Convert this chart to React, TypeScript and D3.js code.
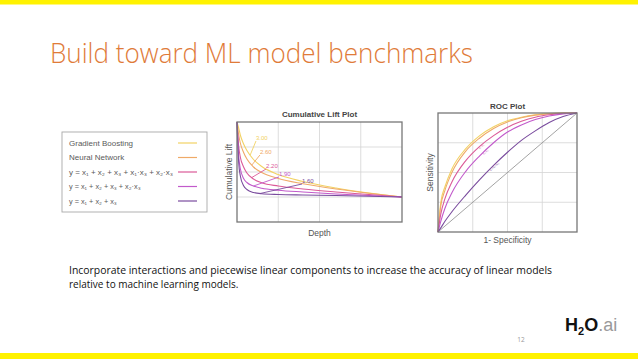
import React from "react";
import * as d3 from "d3";

const seriesNames = [
  "Gradient Boosting",
  "Neural Network",
  "y = x₁ + x₂ + x₃ + x₁·x₃ + x₂·x₃",
  "y = x₁ + x₂ + x₃ + x₂·x₃",
  "y = x₁ + x₂ + x₃",
];
const seriesColors = ["#F2D264", "#EFAA68", "#DB5A98", "#C25ACB", "#7A4C9E"];

// Cumulative lift
const liftDepth = [0, 0.01, 0.02, 0.04, 0.06, 0.1, 0.15, 0.25, 0.4, 0.6, 0.8, 1.0];
const liftGB = [4.0, 3.76, 3.48, 3.12, 2.86, 2.5, 2.22, 1.9, 1.62, 1.36, 1.16, 1.0];
const liftNN = [4.0, 3.5, 3.16, 2.78, 2.52, 2.2, 1.98, 1.74, 1.53, 1.32, 1.15, 1.0];
const liftX13X23 = [4.0, 3.05, 2.6, 2.2, 1.96, 1.72, 1.57, 1.44, 1.32, 1.2, 1.1, 1.0];
const liftX23 = [4.0, 2.65, 2.14, 1.74, 1.58, 1.44, 1.35, 1.27, 1.2, 1.12, 1.06, 1.0];
const liftBase = [4.0, 2.4, 1.85, 1.45, 1.3, 1.18, 1.13, 1.1, 1.08, 1.06, 1.03, 1.0];
const liftSeries = [liftGB, liftNN, liftX13X23, liftX23, liftBase];
const liftLabels = ["3.00", "2.60", "2.20", "1.90", "1.60"];
const liftLabelDepth = [0.109, 0.133, 0.17, 0.248, 0.388];
const liftLabelLift = [3.28, 2.72, 2.16, 1.84, 1.56];
const liftAnchorDepth = [0.08, 0.09, 0.09, 0.1, 0.14];

// ROC
const rocFpr = [0, 0.02, 0.05, 0.1, 0.2, 0.3, 0.4, 0.5, 0.6, 0.7, 0.8, 0.9, 1.0];
const rocGB = [0, 0.25, 0.38, 0.53, 0.7, 0.81, 0.885, 0.935, 0.965, 0.985, 0.995, 1.0, 1.0];
const rocNN = [0, 0.22, 0.35, 0.5, 0.68, 0.79, 0.87, 0.925, 0.96, 0.982, 0.994, 0.999, 1.0];
const rocX13X23 = [0, 0.15, 0.28, 0.42, 0.6, 0.72, 0.81, 0.88, 0.93, 0.965, 0.985, 0.997, 1.0];
const rocX23 = [0, 0.09, 0.2, 0.33, 0.51, 0.64, 0.75, 0.84, 0.9, 0.945, 0.975, 0.993, 1.0];
const rocBase = [0, 0.035, 0.09, 0.17, 0.31, 0.44, 0.56, 0.67, 0.77, 0.85, 0.92, 0.97, 1.0];
const rocSeries = [rocGB, rocNN, rocX13X23, rocX23, rocBase];

const titleText = "Build toward ML model benchmarks";
const bodyLines = [
  "Incorporate interactions and piecewise linear components to increase the accuracy of linear models",
  "relative to machine learning models.",
];
const pageNumber = "12";

const W = 638;
const H = 359;
const SANS = "'Liberation Sans', Arial, sans-serif";
const BODY = "'Open Sans', 'Noto Sans', sans-serif";

function interp(xs: number[], ys: number[], x: number) {
  for (let i = 1; i < xs.length; i++) {
    if (x <= xs[i]) {
      const t = (x - xs[i - 1]) / (xs[i] - xs[i - 1]);
      return ys[i - 1] + t * (ys[i] - ys[i - 1]);
    }
  }
  return ys[ys.length - 1];
}

function LiftPlot() {
  const x = d3.scaleLinear().domain([0, 1]).range([237, 402]);
  const y = d3.scaleLinear().domain([0, 4]).range([222, 122]);
  const line = d3
    .line<number>()
    .x((_, i) => x(liftDepth[i]))
    .y((d) => y(d))
    .curve(d3.curveMonotoneX);
  const gx = [0.25, 0.5, 0.75];
  const gy = [1, 2, 3];
  return (
    <g>
      <text x={(x(0) + x(1)) / 2} y={117} textAnchor="middle" fontFamily={SANS} fontSize={8} fontWeight="bold" fill="#444">
        Cumulative Lift Plot
      </text>
      {gx.map((g) => (
        <line key={"vx" + g} x1={x(g)} x2={x(g)} y1={y(4)} y2={y(0)} stroke="#d4d4d4" strokeWidth={0.8} />
      ))}
      {gy.map((g) => (
        <line key={"hy" + g} y1={y(g)} y2={y(g)} x1={x(0)} x2={x(1)} stroke="#d4d4d4" strokeWidth={0.8} />
      ))}
      {liftSeries.map((s, i) => (
        <path key={i} d={line(s) || ""} fill="none" stroke={seriesColors[i]} strokeWidth={1.1} />
      ))}
      {liftLabels.map((lab, i) => {
        const ax = x(liftAnchorDepth[i]);
        const ay = y(interp(liftDepth, liftSeries[i], liftAnchorDepth[i]));
        const lx = x(liftLabelDepth[i]);
        const ly = y(liftLabelLift[i]);
        return (
          <g key={lab}>
            <line x1={lx + 1} y1={ly + 1} x2={ax} y2={ay} stroke={seriesColors[i]} strokeWidth={0.9} />
            <text x={lx + 1} y={ly} fontFamily={SANS} fontSize={6} fill={seriesColors[i]}>
              {lab}
            </text>
          </g>
        );
      })}
      <rect x={x(0)} y={y(4)} width={x(1) - x(0)} height={y(0) - y(4)} fill="none" stroke="#777" strokeWidth={1.3} />
      <text
        transform={`translate(${232},${(y(0) + y(4)) / 2}) rotate(-90)`}
        textAnchor="middle"
        fontFamily={SANS}
        fontSize={8.5}
        fill="#555"
      >
        Cumulative Lift
      </text>
      <text x={(x(0) + x(1)) / 2} y={236} textAnchor="middle" fontFamily={SANS} fontSize={8.5} fill="#555">
        Depth
      </text>
    </g>
  );
}

function RocPlot() {
  const x = d3.scaleLinear().domain([0, 1]).range([438, 577]);
  const y = d3.scaleLinear().domain([0, 1]).range([232, 113]);
  const line = d3
    .line<number>()
    .x((_, i) => x(rocFpr[i]))
    .y((d) => y(d))
    .curve(d3.curveMonotoneX);
  const g = [0.25, 0.5, 0.75];
  return (
    <g>
      <text x={(x(0) + x(1)) / 2} y={109} textAnchor="middle" fontFamily={SANS} fontSize={8} fontWeight="bold" fill="#444">
        ROC Plot
      </text>
      {g.map((v) => (
        <line key={"v" + v} x1={x(v)} x2={x(v)} y1={y(0)} y2={y(1)} stroke="#d4d4d4" strokeWidth={0.8} />
      ))}
      {g.map((v) => (
        <line key={"h" + v} y1={y(v)} y2={y(v)} x1={x(0)} x2={x(1)} stroke="#d4d4d4" strokeWidth={0.8} />
      ))}
      <line x1={x(0)} y1={y(0)} x2={x(1)} y2={y(1)} stroke="#999" strokeWidth={0.9} />
      {rocSeries.map((s, i) => (
        <path key={i} d={line(s) || ""} fill="none" stroke={seriesColors[i]} strokeWidth={1.1} />
      ))}
      {[2, 3, 4].map((i) => {
        const fx = [0.3, 0.33, 0.38][i - 2];
        const px = x(fx);
        const py = y(interp(rocFpr, rocSeries[i], fx)) + 3;
        return (
          <text
            key={"rl" + i}
            transform={`translate(${px},${py}) rotate(-42)`}
            fontFamily={SANS}
            fontSize={3}
            fill={seriesColors[i]}
          >
            {i === 4 ? "x₁+x₂+x₃" : i === 3 ? "x₂·x₃" : "x₁·x₃"}
          </text>
        );
      })}
      <rect x={x(0)} y={y(1)} width={x(1) - x(0)} height={y(0) - y(1)} fill="none" stroke="#777" strokeWidth={1.3} />
      <text
        transform={`translate(${433},${(y(0) + y(1)) / 2}) rotate(-90)`}
        textAnchor="middle"
        fontFamily={SANS}
        fontSize={8.5}
        fill="#555"
      >
        Sensitivity
      </text>
      <text x={(x(0) + x(1)) / 2} y={243} textAnchor="middle" fontFamily={SANS} fontSize={8.5} fill="#555">
        1- Specificity
      </text>
    </g>
  );
}

function Legend() {
  const rows = d3.scalePoint<number>().domain(d3.range(seriesNames.length)).range([143, 201]);
  return (
    <g>
      <rect x={62} y={132} width={145} height={80} fill="#fff" stroke="#a8a8a8" strokeWidth={0.9} />
      {seriesNames.map((n, i) => (
        <g key={n}>
          <text
            x={69}
            y={(rows(i) || 0) + 2.7}
            fontFamily={SANS}
            fontSize={i < 2 ? 8 : 7.3}
            fill="#5a5a5a"
            textLength={i === 2 ? 104 : undefined}
            lengthAdjust="spacingAndGlyphs"
          >
            {n}
          </text>
          <line x1={178} x2={197} y1={rows(i)} y2={rows(i)} stroke={seriesColors[i]} strokeWidth={1.2} />
        </g>
      ))}
    </g>
  );
}

export default function App() {
  return (
    <svg
      width={W}
      height={H}
      viewBox={`0 0 ${W} ${H}`}
      style={{ position: "absolute", left: 0, top: 0, display: "block" }}
    >
      <rect x={0} y={0} width={W} height={H} fill="#fff" />
      <rect x={0} y={0} width={W} height={4.5} fill="#FFF200" />
      <rect x={0} y={353} width={W} height={6} fill="#FFF200" />
      <text
        x={50}
        y={63}
        fontFamily={BODY}
        fontWeight={300}
        fontSize={27}
        fill="#E07B39"
        textLength={423}
        lengthAdjust="spacingAndGlyphs"
      >
        {titleText}
      </text>
      <Legend />
      <LiftPlot />
      <RocPlot />
      {bodyLines.map((l, i) => (
        <text
          key={i}
          x={69}
          y={274 + i * 13.5}
          fontFamily={BODY}
          fontSize={10}
          fill="#111"
          textLength={i === 0 ? 483 : undefined}
          lengthAdjust="spacingAndGlyphs"
        >
          {l}
        </text>
      ))}
      <text x={521} y={342} textAnchor="middle" fontFamily={BODY} fontSize={6.5} fill="#999">
        {pageNumber}
      </text>
      <text x={565} y={331} fontFamily={SANS} fontWeight="bold" fontSize={18} fill="#111">
        H
        <tspan fontSize={11} dy={4}>2</tspan>
        <tspan dy={-4}>O</tspan>
        <tspan fontWeight="normal" fill="#9a9a9a">.ai</tspan>
      </text>
    </svg>
  );
}
